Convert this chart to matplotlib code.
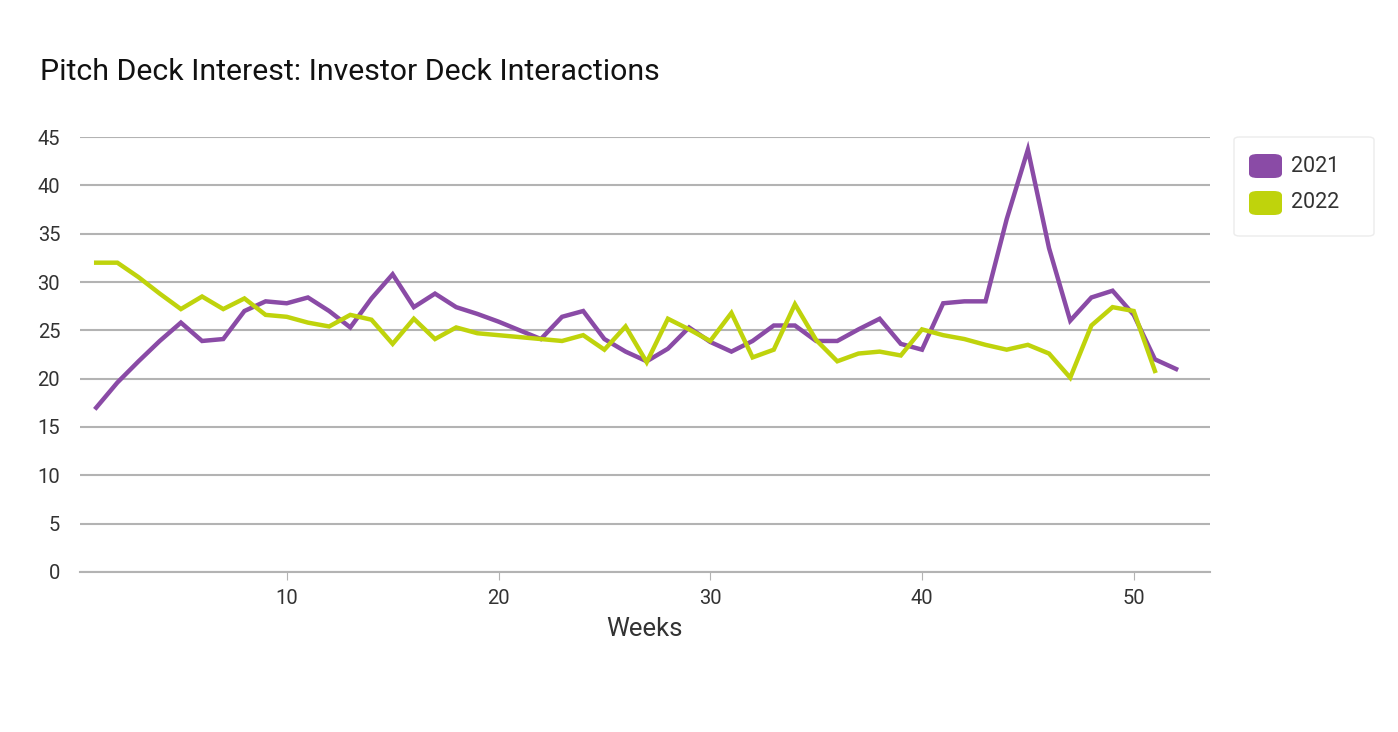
import numpy as np
import matplotlib.pyplot as plt
from matplotlib.patches import FancyBboxPatch

plt.rcParams['font.family'] = ['Roboto', 'DejaVu Sans']

weeks_2021 = np.arange(1, 53)
vals_2021 = [17.0, 19.6, 21.8, 23.9, 25.8, 23.9, 24.1, 27.0, 28.0, 27.8,
             28.4, 27.0, 25.3, 28.3, 30.8, 27.4, 28.8, 27.4, 26.7, 25.9,
             25.0, 24.1, 26.4, 27.0, 24.1, 22.8, 21.8, 23.1, 25.3, 23.8,
             22.8, 23.9, 25.5, 25.5, 23.9, 23.9, 25.1, 26.2, 23.6, 23.0,
             27.8, 28.0, 28.0, 36.5, 43.7, 33.5, 26.0, 28.4, 29.1, 26.6,
             22.0, 21.0]
weeks_2022 = np.arange(1, 52)
vals_2022 = [32.0, 32.0, 30.5, 28.8, 27.2, 28.5, 27.2, 28.3, 26.6, 26.4,
             25.8, 25.4, 26.6, 26.1, 23.6, 26.2, 24.1, 25.3, 24.7, 24.5,
             24.3, 24.1, 23.9, 24.5, 23.0, 25.4, 21.7, 26.2, 25.1, 23.9,
             26.8, 22.2, 23.0, 27.7, 24.0, 21.8, 22.6, 22.8, 22.4, 25.1,
             24.5, 24.1, 23.5, 23.0, 23.5, 22.6, 20.1, 25.5, 27.4, 27.0,
             20.8]
series_labels = ['2021', '2022']
colors = ['#8a4ba6', '#bfd30c']

fig = plt.figure(figsize=(13.98, 7.32), dpi=100)
ax = fig.add_axes([0.057, 0.2186, 0.8085, 0.5942])

ax.plot(weeks_2021, vals_2021, color=colors[0], lw=3.2, solid_joinstyle='miter', zorder=3)
ax.plot(weeks_2022, vals_2022, color=colors[1], lw=3.2, solid_joinstyle='miter', zorder=4)

ax.set_xlim(0.22, 53.6)
ax.set_ylim(0, 45)
ax.set_yticks(range(0, 46, 5))
ax.set_xticks([10, 20, 30, 40, 50])
ax.grid(axis='y', color='#b3b3b3', lw=1.5)
ax.set_axisbelow(True)
for s in ['top', 'right', 'left']:
    ax.spines[s].set_visible(False)
ax.spines['bottom'].set_color('#b3b3b3')
ax.spines['bottom'].set_linewidth(1.5)
ax.tick_params(axis='y', length=0, pad=14, labelsize=14.5, labelcolor='#333333')
ax.tick_params(axis='x', length=6, color='#b3b3b3', pad=6, labelsize=14.5, labelcolor='#333333')
ax.set_xlabel('Weeks', fontsize=18.5, color='#333333', labelpad=7)

fig.text(40 / 1398, 1 - 72 / 732, 'Pitch Deck Interest: Investor Deck Interactions',
         fontsize=21.8, color='#111111', va='center', ha='left')

# legend box
fig.patches.append(FancyBboxPatch((1234 / 1398, 1 - 236 / 732), 140 / 1398, 99 / 732,
                                  boxstyle='round,pad=0,rounding_size=0.004',
                                  transform=fig.transFigure, fc='white', ec='#ececec', lw=1))
for i, (lab, c) in enumerate(zip(series_labels, colors)):
    yc = 1 - (166 + i * 37) / 732
    fig.patches.append(FancyBboxPatch((1249 / 1398, yc - 12 / 732), 33 / 1398, 24 / 732,
                                      boxstyle='round,pad=0,rounding_size=0.006',
                                      transform=fig.transFigure, fc=c, ec='none'))
    fig.text(1291 / 1398, yc, lab, fontsize=15.5, color='#333333', va='center', ha='left')

fig.savefig('out.png', dpi=100)
